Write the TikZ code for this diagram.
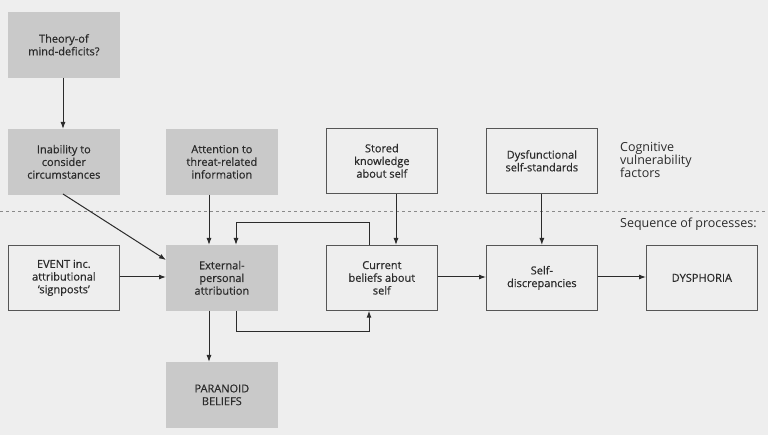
\documentclass[tikz,border=0pt]{standalone}
\usepackage{fontspec}
\setmainfont{Open Sans}
\newfontfamily\boxfont{Open Sans}[FakeBold=0.5]
\usetikzlibrary{arrows.meta}
\definecolor{paper}{HTML}{EEEEEE}
\definecolor{greybox}{HTML}{C9C9C9}
\definecolor{ink}{HTML}{2B2B2B}
\begin{document}
\begin{tikzpicture}[x=1pt,y=-1pt,
  boxbase/.style={draw=ink!80, line width=0.7pt, minimum width=111pt, minimum height=65pt,
    align=center, text=ink, font=\boxfont\fontsize{11}{12.7}\selectfont, inner sep=2pt, anchor=north west},
  whitebox/.style={boxbase, fill=paper},
  shadebox/.style={boxbase, fill=greybox, draw=greybox},
  arr/.style={draw=ink, line width=1pt, -{Latex[length=7pt,width=5pt]}},
  lbl/.style={text=ink, font=\fontsize{12.5}{13}\selectfont, align=left, anchor=north west, inner sep=0pt}]
\fill[paper] (0,0) rectangle (768,435);
\useasboundingbox (0,0) rectangle (768,435);
% dashed separator
\draw[ink!55, dashed, dash pattern=on 3pt off 3pt, line width=0.6pt] (0,211) -- (768,211);
% boxes
\node[shadebox] (theory) at (8,12) {Theory-of\\mind-deficits?};
\node[shadebox] (inab) at (8,129) {Inability to\\consider\\circumstances};
\node[shadebox] (attn) at (166,129) {Attention to\\threat-related\\information};
\node[whitebox] (stored) at (326,128) {Stored\\knowledge\\about self};
\node[whitebox] (dysf) at (486,128) {Dysfunctional\\self-standards};
\node[whitebox] (event) at (8,245) {EVENT inc.\\attributional\\‘signposts’};
\node[shadebox] (ext) at (166,245) {External-\\personal\\attribution};
\node[whitebox] (curr) at (326,245) {Current\\beliefs about\\self};
\node[whitebox] (disc) at (486,245) {Self-\\discrepancies};
\node[whitebox] (dysph) at (646,245) {DYSPHORIA};
\node[shadebox] (para) at (166,362) {PARANOID\\BELIEFS};
% labels
\node[lbl] (cog) at (620,142) {Cognitive\\vulnerability\\factors};
\node[lbl] (seq) at (620,218) {Sequence of processes:};
% helper coordinates
\coordinate (inabout) at (63,194);
\coordinate (extin) at (166,260);
\coordinate (lpA) at (369,223);
\coordinate (lpB) at (236,223);
\coordinate (lpC) at (236,332);
\coordinate (lpD) at (369,332);
% arrows
\draw[arr] (theory.south -| 63,0) -- (inab.north -| 63,0);
\draw[arr] (inabout) -- (extin);
\draw[arr] (attn.south -| 209,0) -- (ext.north -| 209,0);
\draw[arr] (event.east |- 0,277) -- (ext.west |- 0,277);
\draw[arr] (curr.north -| lpA) -- (lpA) -- (lpB) -- (ext.north -| lpB);
\draw[arr] (ext.south -| lpC) -- (lpC) -- (lpD) -- (curr.south -| lpD);
\draw[arr] (stored.south -| 396,0) -- (curr.north -| 396,0);
\draw[arr] (dysf.south) -- (disc.north);
\draw[arr] (ext.south -| 209,0) -- (para.north -| 209,0);
\draw[arr] (curr.east |- 0,277) -- (disc.west |- 0,277);
\draw[arr] (disc.east |- 0,277) -- (dysph.west |- 0,277);
\end{tikzpicture}
\end{document}
